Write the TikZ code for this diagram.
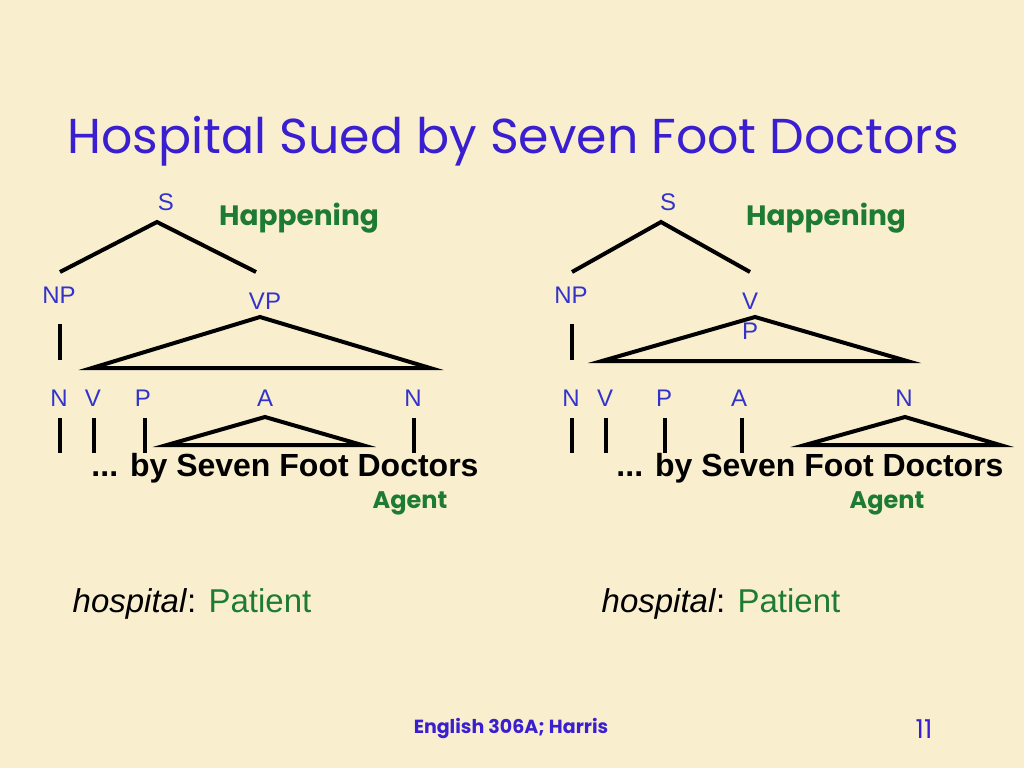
\documentclass[tikz,border=0pt]{standalone}
\usepackage{fontspec}
\setmainfont{Liberation Sans}
\newfontfamily\comic{Poppins}
\definecolor{bgc}{RGB}{249,239,207}
\definecolor{titleblue}{RGB}{58,31,208}
\definecolor{lblue}{RGB}{51,51,204}
\definecolor{rgreen}{RGB}{30,123,52}
\tikzset{
  cat/.style={anchor=base,inner sep=0pt,text=lblue,font=\fontsize{24}{26}\selectfont},
  role/.style={anchor=base,inner sep=0pt,text=rgreen,font=\comic\bfseries\fontsize{24}{26}\selectfont},
  bigrole/.style={role,font=\comic\bfseries\fontsize{28}{30}\selectfont},
  phrase/.style={anchor=base,inner sep=0pt,font=\bfseries\fontsize{32}{34}\selectfont},
  theta/.style={anchor=base,inner sep=0pt,font=\fontsize{33}{36}\selectfont},
  branch/.style={line width=4pt},
}
\begin{document}
\begin{tikzpicture}[x=1pt,y=-1pt]
\fill[bgc] (0,0) rectangle (1024,768);
\useasboundingbox (0,0) rectangle (1024,768);
\node[anchor=base,inner sep=0pt,text=titleblue,font=\comic\fontsize{49}{56}\selectfont] (title) at (513,153) {Hospital Sued by Seven Foot Doctors};

% ---------- left tree
\node[cat] (S1) at (166,210) {S};
\node[bigrole] (H1) at (299,225) {Happening};
\node[cat] (NP1) at (59,303) {NP};
\node[cat] (VP1) at (265,309) {VP};
\node[cat] (N1a) at (59,406) {N};
\node[cat] (V1) at (93,406) {V};
\node[cat] (P1) at (143,406) {P};
\node[cat] (A1) at (265,406) {A};
\node[cat] (N1b) at (413,406) {N};
\node[phrase] (T1) at (285,476) {... by Seven Foot Doctors};
\node[role] (Ag1) at (410,508) {Agent};
\node[theta] (Pt1) at (192,612) {\textit{hospital}: \textcolor{rgreen}{Patient}};

\coordinate (s1) at (157,222);
\coordinate (np1t) at (60,272);
\coordinate (vp1t) at (256,272);
\draw[branch] (np1t) -- (s1) -- (vp1t);
\coordinate (np1a) at (60,324); \coordinate (np1b) at (60,360);
\draw[branch] (np1a) -- (np1b);
\coordinate (vp1apex) at (260,317); \coordinate (vp1l) at (92,368); \coordinate (vp1r) at (430,368);
\draw[branch] (vp1l) -- (vp1apex) -- (vp1r) -- cycle;
\foreach \x/\n in {60/a,94/b,145/c,414/d}{
  \coordinate (t1\n) at (\x,418); \coordinate (b1\n) at (\x,453);
  \draw[branch] (t1\n) -- (b1\n);
}
\coordinate (a1apex) at (265,417); \coordinate (a1l) at (167,445); \coordinate (a1r) at (362,445);
\draw[branch] (a1l) -- (a1apex) -- (a1r) -- cycle;

% ---------- right tree
\node[cat] (S2) at (668,210) {S};
\node[bigrole] (H2) at (826,225) {Happening};
\node[cat] (NP2) at (571,303) {NP};
\node[cat] (VP2a) at (750,309) {V};
\node[cat] (VP2b) at (750,339) {P};
\node[cat] (N2a) at (571,406) {N};
\node[cat] (V2) at (605,406) {V};
\node[cat] (P2) at (664,406) {P};
\node[cat] (A2) at (739,406) {A};
\node[cat] (N2b) at (904,406) {N};
\node[phrase] (T2) at (810,476) {... by Seven Foot Doctors};
\node[role] (Ag2) at (887,508) {Agent};
\node[theta] (Pt2) at (721,612) {\textit{hospital}: \textcolor{rgreen}{Patient}};

\coordinate (s2) at (661,222);
\coordinate (np2t) at (572,272);
\coordinate (vp2t) at (750,272);
\draw[branch] (np2t) -- (s2) -- (vp2t);
\coordinate (np2a) at (572,324); \coordinate (np2b) at (572,360);
\draw[branch] (np2a) -- (np2b);
\coordinate (vp2apex) at (755,317); \coordinate (vp2l) at (602,361); \coordinate (vp2r) at (907,361);
\draw[branch] (vp2l) -- (vp2apex) -- (vp2r) -- cycle;
\foreach \x/\n in {572/a,606/b,665/c,742/d}{
  \coordinate (t2\n) at (\x,418); \coordinate (b2\n) at (\x,453);
  \draw[branch] (t2\n) -- (b2\n);
}
\coordinate (n2apex) at (905,417); \coordinate (n2l) at (805,445); \coordinate (n2r) at (1000,445);
\draw[branch] (n2l) -- (n2apex) -- (n2r) -- cycle;

% ---------- footer
\node[anchor=base,inner sep=0pt,text=titleblue,font=\comic\bfseries\fontsize{19}{21}\selectfont] (foot) at (511,733) {English 306A; Harris};
\node[anchor=base,inner sep=0pt,text=titleblue,font=\comic\fontsize{26}{28}\selectfont] (page) at (924,738) {11};
\end{tikzpicture}
\end{document}
